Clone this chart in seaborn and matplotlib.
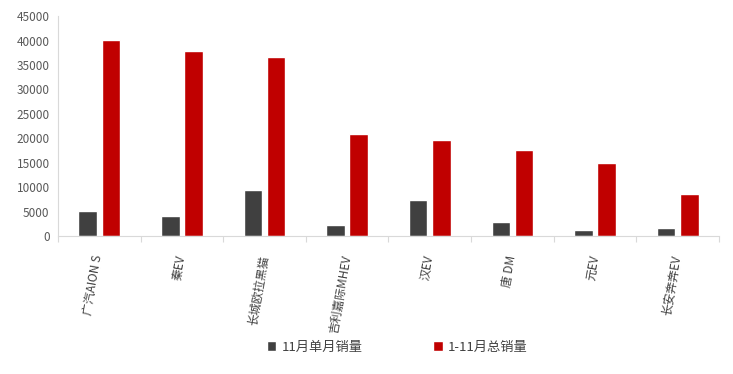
import matplotlib
matplotlib.use("Agg")
import matplotlib.pyplot as plt
import seaborn as sns
import pandas as pd
from matplotlib.ticker import FixedLocator

categories = ["广汽AION S", "秦EV", "长城欧拉黑猫", "吉利嘉际MHEV", "汉EV", "唐 DM", "元EV", "长安奔奔EV"]
nov_sales = [5100, 4100, 9400, 2250, 7350, 2850, 1250, 1650]
ytd_sales = [40100, 37800, 36600, 20900, 19650, 17600, 14950, 8600]
series_names = ["11月单月销量", "1-11月总销量"]
yticks = [0, 5000, 10000, 15000, 20000, 25000, 30000, 35000, 40000, 45000]

sns.set_theme(style="white")
plt.rcParams['font.family'] = ['Noto Sans CJK SC', 'DejaVu Sans']

df = pd.DataFrame({
    "车型": categories * 2,
    "销量": nov_sales + ytd_sales,
    "系列": [series_names[0]] * len(categories) + [series_names[1]] * len(categories),
})

fig = plt.figure(figsize=(7.33, 3.74), dpi=100)
ax = fig.add_axes([0.079, 0.369, 0.902, 0.588])
sns.barplot(data=df, x="车型", y="销量", hue="系列", order=categories,
            hue_order=series_names, palette=["#404040", "#C00000"],
            width=0.56, gap=0.2, ax=ax, legend=True, saturation=1)

ax.set_ylim(0, 45000)
ax.set_xlim(-0.5, len(categories) - 0.5)
ax.set_yticks(yticks)
ax.set_yticklabels([str(v) for v in yticks], fontsize=8.5, color="#595959")
ax.set_xlabel("")
ax.set_ylabel("")
ax.set_xticks(range(len(categories)))
ax.set_xticklabels(categories, rotation=80, ha="right", va="center",
                   rotation_mode="anchor", fontsize=8.5, color="#404040")
ax.xaxis.set_minor_locator(FixedLocator([i - 0.5 for i in range(len(categories) + 1)]))
ax.tick_params(axis="x", which="major", length=0, pad=14)
ax.tick_params(axis="x", which="minor", length=4, color="#D9D9D9", width=0.8, direction="out", bottom=True)
ax.tick_params(axis="y", length=0, pad=6)

for s in ["top", "right"]:
    ax.spines[s].set_visible(False)
ax.spines["left"].set_color("#D9D9D9")
ax.spines["bottom"].set_color("#D9D9D9")
ax.spines["left"].set_linewidth(0.8)
ax.spines["bottom"].set_linewidth(0.8)

leg = ax.legend(loc="center", bbox_to_anchor=(0.513, -0.505), ncol=2, frameon=False,
                fontsize=9.5, handlelength=0.75, handleheight=0.75, handletextpad=0.4,
                columnspacing=5.3)
for t in leg.get_texts():
    t.set_color("#404040")

fig.savefig("out.png", dpi=100)
